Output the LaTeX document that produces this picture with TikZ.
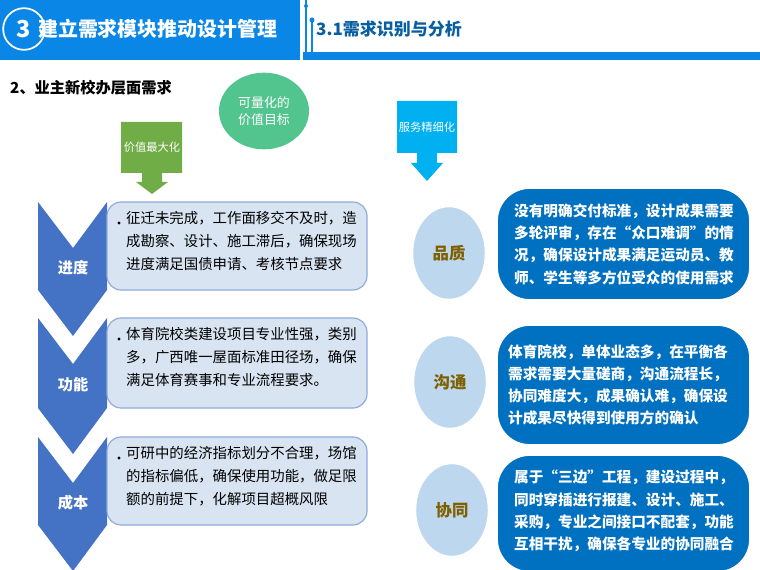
\documentclass[tikz,border=0pt]{standalone}
\usepackage{fontspec}
\setmainfont{Noto Sans CJK SC}
\usetikzlibrary{shapes.geometric}
\definecolor{hdrblue}{HTML}{0A86E6}
\definecolor{chevblue}{HTML}{4472C4}
\definecolor{paleblue}{HTML}{D9E4F2}
\definecolor{deepblue}{HTML}{0070C0}
\definecolor{circblue}{HTML}{BDD7EE}
\definecolor{goldtxt}{HTML}{7F6000}
\definecolor{leafgreen}{HTML}{70AD47}
\definecolor{mintgreen}{HTML}{52C48E}
\definecolor{skycyan}{HTML}{00B0F0}
\tikzset{
  txt/.style={font=\fontsize{12.3}{19.8}\selectfont, align=left, inner sep=0pt},
  painbox/.style={draw=chevblue!60, line width=1pt, fill=paleblue, rounded corners=12pt},
  fixbox/.style={draw=white, line width=1.5pt, fill=deepblue, rounded corners=28pt},
  bubble/.style={ellipse, fill=circblue, draw=white, line width=1.5pt, minimum width=2.2cm, minimum height=2.8cm,
    text=goldtxt, font=\fontsize{14}{18}\selectfont\bfseries},
  chevlabel/.style={text=white, font=\fontsize{13}{16}\selectfont\bfseries},
  tag/.style={text=white, inner sep=0pt, font=\fontsize{9.6}{12}\selectfont}
}
\begin{document}
\begin{tikzpicture}[x=0.03cm, y=-0.03cm]
  \useasboundingbox (0,0) rectangle (760,570);
  % header
  \fill[hdrblue] (0,0) rectangle (300,60);
  \fill[hdrblue] (303,52) rectangle (760,60);
  \draw[hdrblue, line width=1.5pt] (306,0) -- (306,52);
  \draw[hdrblue, line width=1pt] (312,52) -- (312,20);
  \fill[hdrblue] (312,20) circle (2.5) (306,6) circle (2);
  \node[circle, draw=white, line width=1.5pt, minimum size=1.25cm, inner sep=0pt, text=white, font=\fontsize{20}{22}\selectfont\bfseries] (num) at (24,29) {3};
  \node[anchor=west, inner sep=0pt, text=white, font=\fontsize{17}{20}\selectfont\bfseries] (title) at (38,29) {建立需求模块推动设计管理};
  \node[anchor=west, inner sep=0pt, text=hdrblue!70!black, font=\fontsize{14.5}{18}\selectfont\bfseries] (subtitle) at (316,29) {3.1需求识别与分析};
  \node[anchor=west, inner sep=0pt, font=\fontsize{13}{16}\selectfont\bfseries] (heading) at (10,88) {2、业主新校办层面需求};
  % top markers
  \node[ellipse, fill=mintgreen, minimum width=2.7cm, minimum height=2.3cm, text=white, align=center,
    font=\fontsize{11}{14}\selectfont] (goal) at (264,111) {可量化的\\价值目标};
  \fill[leafgreen] (121,122) rectangle (182,173) (142,173) rectangle (162,182) (136,182) -- (168,182) -- (152,194) -- cycle;
  \node[tag] (valuemax) at (152,147) {价值最大化};
  \fill[skycyan] (397,101) rectangle (457,153) (417,153) rectangle (437,163) (411,163) -- (443,163) -- (427,181) -- cycle;
  \node[tag] (service) at (427,127) {服务精细化};
  % chevrons and left boxes
  \foreach \top/\bot/\lab/\body in {
    202/290/进度/{征迁未完成，工作面移交不及时，造\\成勘察、设计、施工滞后，确保现场\\进度满足国债申请、考核节点要求},
    318/408/功能/{体育院校类建设项目专业性强，类别\\多，广西唯一屋面标准田径场，确保\\满足体育赛事和专业流程要求。},
    437/525/成本/{可研中的经济指标划分不合理，场馆\\的指标偏低，确保使用功能，做足限\\额的前提下，化解项目超概风限}}{
    \fill[chevblue] (38,\top) -- (73,\top+46) -- (107,\top) -- (107,\bot) -- (73,\bot+46) -- (38,\bot) -- cycle;
    \draw[painbox] (107,\top) rectangle (367,\bot);
    \node[chevlabel] at (73,{(\top+\bot)/2+22}) {\lab};
    \fill (119,\top+21) circle (1.6);
    \node[txt, anchor=north west] at (126,\top+9) {\body};
  }
  % right side
  \node[bubble] (quality) at (449,253) {品质};
  \node[bubble] (talk) at (450,382) {沟通};
  \node[bubble] (coop) at (452,510) {协同};
  \draw[fixbox] (497,188) rectangle (750,300);
  \node[txt, text=white, font=\fontsize{12.5}{19}\selectfont\bfseries] at (624,244)
    {没有明确交付标准，设计成果需要\\多轮评审，存在“众口难调”的情\\况，确保设计成果满足运动员、教\\师、学生等多方位受众的使用需求};
  \draw[fixbox] (497,325) rectangle (750,445);
  \node[txt, text=white, font=\fontsize{12.5}{19}\selectfont\bfseries] at (618,385)
    {体育院校，单体业态多，在平衡各\\需求需要大量磋商，沟通流程长，\\协同难度大，成果确认难，确保设\\计成果尽快得到使用方的确认};
  \draw[fixbox] (497,455) rectangle (750,572);
  \node[txt, text=white, font=\fontsize{12.5}{19}\selectfont\bfseries] at (624,511)
    {属于“三边”工程，建设过程中，\\同时穿插进行报建、设计、施工、\\采购，专业之间接口不配套，功能\\互相干扰，确保各专业的协同融合};
\end{tikzpicture}
\end{document}
